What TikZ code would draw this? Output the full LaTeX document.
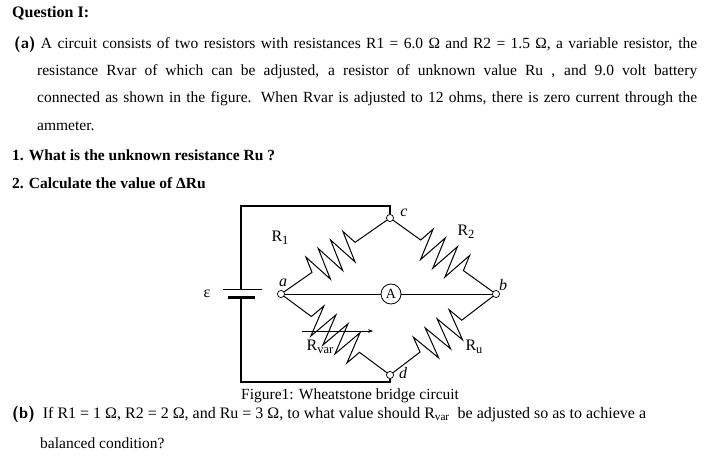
\documentclass[tikz,border=0pt]{standalone}
\usepackage{fontspec}
\setmainfont{Liberation Serif}
\usetikzlibrary{decorations.pathmorphing,arrows.meta}
\newcommand{\subx}[1]{\raisebox{-0.35ex}{\fontsize{12.5}{14}\selectfont #1}}
\begin{document}
\begin{tikzpicture}[x=1pt,y=-1pt,
  txt/.style={anchor=west,inner sep=0pt,font=\fontsize{15.5}{17}\selectfont},
  wire/.style={line width=1.1pt},
  res/.style={line width=1pt,decorate,decoration={zigzag,segment length=15pt,amplitude=16pt,pre length=34pt,post length=34pt}},
  term/.style={circle,draw,fill=white,inner sep=0pt,minimum size=7pt,line width=0.6pt},
  lab/.style={font=\fontsize{16}{18}\selectfont,inner sep=0pt}]
\useasboundingbox (0,0) rectangle (720,457);
\node[txt,font=\bfseries\fontsize{16}{18}\selectfont] (q) at (12,13) {Question I:};
\node[txt] (l1) at (14,45) {\makebox[683pt][s]{{\sffamily\bfseries(a)} A circuit consists of two resistors with resistances R1 = 6.0 Ω and R2 = 1.5 Ω, a variable resistor, the}};
\node[txt] (l2) at (37,72) {\makebox[660pt][s]{resistance Rvar of which can be adjusted, a resistor of unknown value Ru , and 9.0 volt battery}};
\node[txt] (l3) at (37,99) {\makebox[660pt][s]{connected as shown in the figure. When Rvar is adjusted to 12 ohms, there is zero current through the}};
\node[txt] (l4) at (37,126) {ammeter.};
\node[txt,font=\bfseries\fontsize{15.5}{17}\selectfont] (p1) at (12,155) {1. What is the unknown resistance Ru ?};
\node[txt,font=\bfseries\fontsize{15.5}{17}\selectfont] (p2) at (12,183) {2. Calculate the value of ΔRu};
% circuit
\coordinate (tl) at (241,206); \coordinate (tr) at (390,206);
\coordinate (bl) at (241,382); \coordinate (br) at (390,382);
\coordinate (bt) at (241,289); \coordinate (bb) at (241,297);
\node[term] (c) at (390,218) {};
\node[term] (a) at (281,294) {};
\node[term] (b) at (496,294) {};
\node[term] (d) at (390,375) {};
\draw[wire] (bt) -- (tl) -- (tr) -- (c);
\draw[wire] (bb) -- (bl) -- (br) -- (d);
\draw[line width=0.8pt] (223,289) -- (262,289);
\draw[line width=3pt] (228,297) -- (255,297);
\node[circle,draw,line width=0.8pt,fill=white,minimum size=20pt,inner sep=0pt,font=\fontsize{14}{16}\selectfont] (A) at (391,294) {A};
\draw[line width=0.8pt] (a) -- (A) -- (b);
\draw[res] (a) -- (c);
\draw[res] (c) -- (b);
\draw[res] (a) -- (d);
\draw[res] (d) -- (b);
\draw[term] (c) circle (3.5pt); \draw[term] (a) circle (3.5pt); \draw[term] (b) circle (3.5pt); \draw[term] (d) circle (3.5pt);
\coordinate (v1) at (302,331); \coordinate (v2) at (373,331);
\draw[line width=0.7pt,-{Stealth[length=5pt]}] (v1) -- (v2);
\node[lab] (lr1) at (280,238) {R\subx{1}};
\node[lab] (lr2) at (466,232) {R\subx{2}};
\node[lab] (lrv) at (320,347) {R\subx{var}};
\node[lab] (lru) at (474,347) {R\subx{u}};
\node[lab,font=\itshape\fontsize{16}{18}\selectfont] (la) at (283,283) {a};
\node[lab,font=\itshape\fontsize{16}{18}\selectfont] (lc) at (404,213) {c};
\node[lab,font=\itshape\fontsize{16}{18}\selectfont] (lb) at (503,285) {b};
\node[lab,font=\itshape\fontsize{16}{18}\selectfont] (ld) at (403,373) {d};
\node[lab] (le) at (207,294) {ε};
\node[txt] (cap) at (241,396) {Figure1: Wheatstone bridge circuit};
\node[txt,font=\fontsize{16}{18}\selectfont] (lb1) at (12,414) {{\sffamily\bfseries(b)}\ \ If R1 = 1 Ω, R2 = 2 Ω, and Ru = 3 Ω, to what value should R\textsubscript{var}\ \ be adjusted so as to achieve a};
\node[txt] (lb2) at (40,443) {balanced condition?};
\end{tikzpicture}
\end{document}
